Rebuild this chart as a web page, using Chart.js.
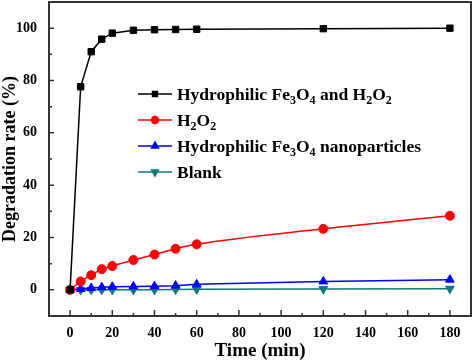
<!DOCTYPE html>
<html>
<head>
<meta charset="utf-8">
<script src="https://cdn.jsdelivr.net/npm/chart.js@4"></script>
<style>
html,body{margin:0;padding:0;background:#fff;}
#wrap{width:474px;height:362px;}
</style>
</head>
<body>
<div id="wrap"><canvas id="chart" width="474" height="362"></canvas></div>
<script>
// ================= DATA =================
const times = [0, 5, 10, 15, 20, 30, 40, 50, 60, 120, 180];
const fe3o4H2o2 = [0, 77.6, 91.0, 95.8, 98.1, 99.2, 99.4, 99.5, 99.6, 99.8, 100];
const h2o2 = [0, 3.2, 5.6, 7.9, 9.1, 11.4, 13.5, 15.7, 17.4, 23.3, 28.3];
const fe3o4Only = [0, 0.3, 0.7, 1.0, 1.2, 1.3, 1.4, 1.6, 2.1, 3.2, 3.9];
const blank = [0, 0, 0, 0, 0, 0, 0, 0.1, 0.2, 0.3, 0.4];

const xTicks = [0, 20, 40, 60, 80, 100, 120, 140, 160, 180];
const yTicks = [0, 20, 40, 60, 80, 100];

// legend labels, segments: [text, isSubscript]
const legendLabels = [
  [["Hydrophilic Fe",0],["3",1],["O",0],["4",1],[" and H",0],["2",1],["O",0],["2",1]],
  [["H",0],["2",1],["O",0],["2",1]],
  [["Hydrophilic Fe",0],["3",1],["O",0],["4",1],[" nanoparticles",0]],
  [["Blank",0]]
];

const FONT = "'Liberation Serif', 'Times New Roman', serif";

function pts(ys){ return times.map((t,i)=>({x:t,y:ys[i]})); }

// ================= FRAME, TICKS, LEGEND =================
const decor = {
  id: "decor",
  afterDraw(chart){
    const ctx = chart.ctx;
    const a = chart.chartArea;
    const xs = chart.scales.x, ys = chart.scales.y;
    ctx.save();
    ctx.strokeStyle = "#333";
    ctx.lineWidth = 2;
    ctx.strokeRect(a.left, a.top, a.right - a.left, a.bottom - a.top);

    // inward ticks
    ctx.lineWidth = 1.5;
    ctx.beginPath();
    for(let v = -10; v <= 190; v += 10){
      const px = xs.getPixelForValue(v);
      if(px <= a.left + 1 || px >= a.right - 1) continue;
      const len = v % 20 === 0 ? 6 : 3;
      ctx.moveTo(px, a.bottom); ctx.lineTo(px, a.bottom - len);
    }
    for(let v = -10; v <= 110; v += 10){
      const py = ys.getPixelForValue(v);
      if(py <= a.top + 1 || py >= a.bottom - 1) continue;
      const len = v % 20 === 0 ? 5 : 3;
      ctx.moveTo(a.left, py); ctx.lineTo(a.left + len, py);
    }
    ctx.stroke();

    // legend
    const x0 = 138, x1 = 172, tx = 177;
    const rowY = [94, 120, 146, 172];
    chart.data.datasets.forEach((ds, i) => {
      const y = rowY[i];
      ctx.strokeStyle = ds.borderColor;
      ctx.lineWidth = 1.5;
      ctx.beginPath(); ctx.moveTo(x0, y); ctx.lineTo(x1, y); ctx.stroke();
      ctx.fillStyle = ds.borderColor;
      Chart.helpers.drawPoint(ctx, {
        pointStyle: ds.pointStyle, radius: ds.pointRadius - 1, rotation: ds.pointRotation || 0,
        borderWidth: 1
      }, (x0 + x1) / 2, y);

      ctx.fillStyle = "#000";
      ctx.textBaseline = "alphabetic";
      let cx = tx;
      legendLabels[i].forEach(([txt, sub]) => {
        ctx.font = sub ? "bold 12px " + FONT : "bold 17.5px " + FONT;
        ctx.fillText(txt, cx, y + 6 + (sub ? 4 : 0));
        cx += ctx.measureText(txt).width;
      });
    });
    ctx.restore();
  }
};

// ================= CHART =================
new Chart(document.getElementById("chart"), {
  type: "line",
  data: {
    datasets: [
      { label: "Hydrophilic Fe3O4 and H2O2", data: pts(fe3o4H2o2), borderColor: "#000", backgroundColor: "#000",
        pointStyle: "rect", pointRadius: 4.5 },
      { label: "H2O2", data: pts(h2o2), borderColor: "#f00", backgroundColor: "#f00",
        pointStyle: "circle", pointRadius: 4.5, cubicInterpolationMode: "monotone" },
      { label: "Hydrophilic Fe3O4 nanoparticles", data: pts(fe3o4Only), borderColor: "#00f", backgroundColor: "#00f",
        pointStyle: "triangle", pointRadius: 5 },
      { label: "Blank", data: pts(blank), borderColor: "#0f7a7a", backgroundColor: "#0f7a7a",
        pointStyle: "triangle", pointRadius: 5, pointRotation: 180 }
    ]
  },
  options: {
    responsive: false,
    animation: false,
    layout: { autoPadding: false, padding: { top: 2, right: 3, left: 0, bottom: 0 } },
    elements: { line: { borderWidth: 1.5 }, point: { borderWidth: 1 } },
    plugins: { legend: { display: false }, tooltip: { enabled: false } },
    scales: {
      x: {
        type: "linear", min: -10, max: 190,
        afterBuildTicks: s => { s.ticks = xTicks.map(v => ({ value: v })); },
        afterFit: s => { s.height = 46; s.paddingLeft = 0; s.paddingRight = 0; },
        grid: { display: false },
        border: { display: false },
        ticks: { color: "#000", padding: 1, maxRotation: 0, autoSkip: false,
          font: { family: FONT, size: 14, weight: "bold" } },
        title: { display: true, text: "Time (min)", color: "#000", padding: { top: 0, bottom: 0 },
          font: { family: FONT, size: 19, weight: "bold" } }
      },
      y: {
        min: -10, max: 110,
        afterBuildTicks: s => { s.ticks = yTicks.map(v => ({ value: v })); },
        afterFit: s => { s.width = 49; s.paddingTop = 0; s.paddingBottom = 0; },
        grid: { display: false },
        border: { display: false },
        ticks: { color: "#000", padding: 4,
          font: { family: FONT, size: 14, weight: "bold" } },
        title: { display: true, text: "Degradation rate (%)", color: "#000", padding: { top: 0, bottom: 0 },
          font: { family: FONT, size: 18, weight: "bold" } }
      }
    }
  },
  plugins: [decor]
});
</script>
</body>
</html>
